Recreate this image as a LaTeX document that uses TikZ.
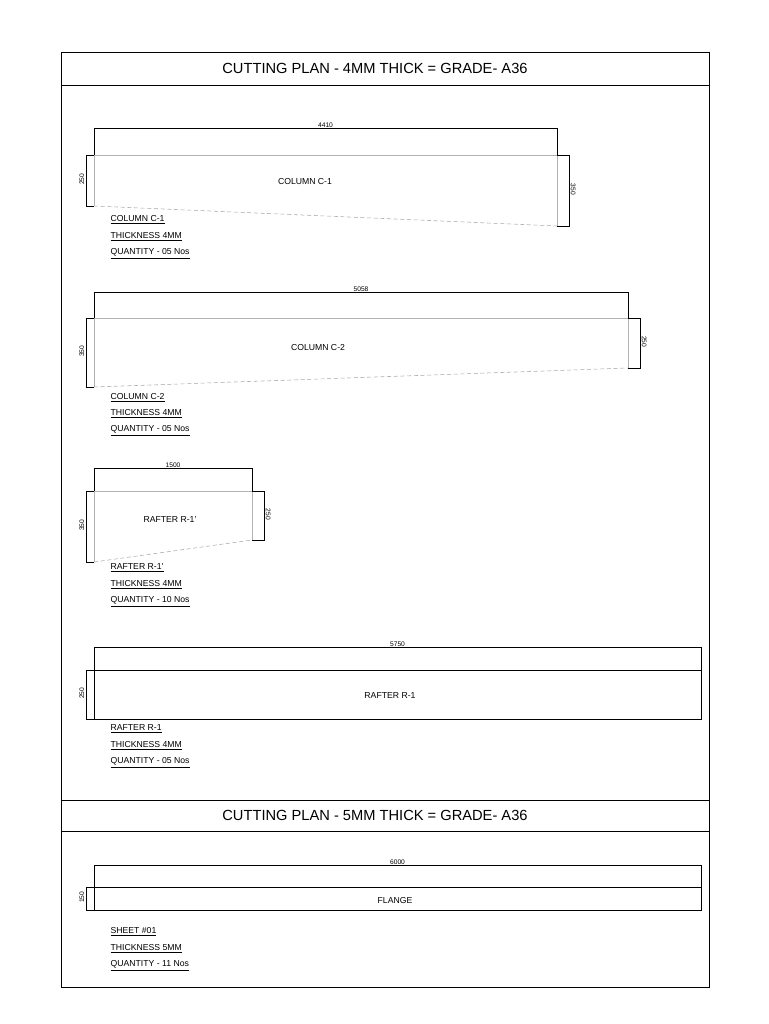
\documentclass[tikz,border=0pt]{standalone}
\usepackage{fontspec}
\setmainfont{Liberation Sans}
\usetikzlibrary{positioning}
\tikzset{
  title/.style={font=\fontsize{11}{12}\selectfont, inner sep=0pt},
  dimtxt/.style={font=\fontsize{5}{6}\selectfont, inner sep=1pt},
  parttxt/.style={font=\fontsize{6.5}{7}\selectfont, inner sep=0pt},
  note/.style={font=\fontsize{6.5}{7}\selectfont, anchor=west, inner sep=1pt},
  dim/.style={line width=0.6pt},
  edge/.style={draw=gray!60, line width=0.4pt},
  cut/.style={draw=gray!70, densely dashed, line width=0.4pt}
}
\begin{document}
\begin{tikzpicture}[x=0.75pt, y=-0.75pt]
  \useasboundingbox (0,0) rectangle (768,1024);
  % frame
  \draw[line width=0.6pt] (61,52) rectangle (709,987);
  \draw[line width=0.6pt] (61,85) -- (709,85);
  \draw[line width=0.6pt] (61,800) -- (709,800);
  \draw[line width=0.6pt] (61,831) -- (709,831);
  \node[title] (t4) at (375,68) {CUTTING PLAN - 4MM THICK = GRADE- A36};
  \node[title] (t5) at (375,815) {CUTTING PLAN - 5MM THICK = GRADE- A36};

  % column C-1
  \draw[dim] (94,155) -- (94,128) -- node[dimtxt, above=-1pt] {4410} (557,128) -- (557,155);
  \draw[edge] (94,155) -- (557,155);
  \draw[edge] (94,155) -- (94,206);
  \draw[edge] (557,155) -- (557,226);
  \draw[cut] (94,206) -- (557,226);
  \draw[dim] (94,155) -- (86,155) -- node[dimtxt, rotate=90, above=1pt] {250} (86,206) -- (94,206);
  \draw[dim] (557,155) -- (569,155) -- node[dimtxt, rotate=-90, above=1pt] {350} (569,226) -- (557,226);
  \node[parttxt] (c1) at (305,182) {COLUMN C-1};
  \node[note] (c1a) at (109,220) {\underline{COLUMN C-1}};
  \node[note] (c1b) at (109,237) {\underline{THICKNESS 4MM}};
  \node[note] (c1c) at (109,254) {\underline{QUANTITY - 05 Nos}};

  % column C-2
  \draw[dim] (94,318) -- (94,292) -- node[dimtxt, above=-1pt] {5058} (628,292) -- (628,318);
  \draw[edge] (94,318) -- (628,318);
  \draw[edge] (94,318) -- (94,387);
  \draw[edge] (628,318) -- (628,368);
  \draw[cut] (94,387) -- (628,368);
  \draw[dim] (94,318) -- (86,318) -- node[dimtxt, rotate=90, above=1pt] {350} (86,387) -- (94,387);
  \draw[dim] (628,318) -- (640,318) -- node[dimtxt, rotate=-90, above=1pt] {250} (640,368) -- (628,368);
  \node[parttxt] (c2) at (318,348) {COLUMN C-2};
  \node[note] (c2a) at (109,398) {\underline{COLUMN C-2}};
  \node[note] (c2b) at (109,414) {\underline{THICKNESS 4MM}};
  \node[note] (c2c) at (109,431) {\underline{QUANTITY - 05 Nos}};

  % rafter R-1'
  \draw[dim] (94,491) -- (94,468) -- node[dimtxt, above=-1pt] {1500} (252,468) -- (252,491);
  \draw[edge] (94,491) -- (252,491);
  \draw[edge] (94,491) -- (94,562);
  \draw[edge] (252,491) -- (252,540);
  \draw[cut] (94,562) -- (252,540);
  \draw[dim] (94,491) -- (86,491) -- node[dimtxt, rotate=90, above=1pt] {350} (86,562) -- (94,562);
  \draw[dim] (252,491) -- (264,491) -- node[dimtxt, rotate=-90, above=1pt] {250} (264,540) -- (252,540);
  \node[parttxt] (r1p) at (170,520) {RAFTER R-1'};
  \node[note] (r1pa) at (109,568) {\underline{RAFTER R-1'}};
  \node[note] (r1pb) at (109,585) {\underline{THICKNESS 4MM}};
  \node[note] (r1pc) at (109,602) {\underline{QUANTITY - 10 Nos}};

  % rafter R-1
  \draw[dim] (94,670) -- (94,647) -- node[dimtxt, above=-1pt] {5750} (701,647) -- (701,670);
  \draw[line width=0.6pt] (94,670) rectangle (701,719);
  \draw[dim] (94,670) -- (86,670) -- node[dimtxt, rotate=90, above=1pt] {250} (86,719) -- (94,719);
  \node[parttxt] (r1) at (390,696) {RAFTER R-1};
  \node[note] (r1a) at (109,729) {\underline{RAFTER R-1}};
  \node[note] (r1b) at (109,746) {\underline{THICKNESS 4MM}};
  \node[note] (r1c) at (109,763) {\underline{QUANTITY - 05 Nos}};

  % flange
  \draw[dim] (94,887) -- (94,865) -- node[dimtxt, above=-1pt] {6000} (701,865) -- (701,887);
  \draw[line width=0.6pt] (94,887) rectangle (701,910);
  \draw[dim] (94,887) -- (86,887) -- node[dimtxt, rotate=90, above=1pt] {150} (86,910) -- (94,910);
  \node[parttxt] (fl) at (395,901) {FLANGE};
  \node[note] (fla) at (109,932) {\underline{SHEET \#01}};
  \node[note] (flb) at (109,949) {\underline{THICKNESS 5MM}};
  \node[note] (flc) at (109,966) {\underline{QUANTITY - 11 Nos}};
\end{tikzpicture}
\end{document}
